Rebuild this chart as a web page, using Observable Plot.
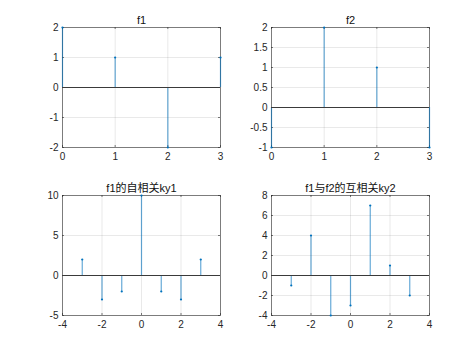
<!DOCTYPE html>
<html>
<head>
<meta charset="utf-8">
<script src="https://cdn.jsdelivr.net/npm/d3@7"></script>
<script src="https://cdn.jsdelivr.net/npm/@observablehq/plot@0.6"></script>
<style>
  body { margin: 0; background: #fff; }
  #fig { position: relative; width: 474px; height: 355px; background: #fff; overflow: hidden; }
  #fig svg { position: absolute; font-family: "Liberation Sans", Arial, "Noto Sans CJK SC", sans-serif; }
</style>
</head>
<body>
<div id="fig"></div>
<script>
// ---- data ----
const n = [0, 1, 2, 3];
const f1 = [2, 1, -2, 1];
const f2 = [-1, 2, 1, -1];
const lags = [-3, -2, -1, 0, 1, 2, 3];
const ky1 = [2, -3, -2, 10, -2, -3, 2];
const ky2 = [-1, 4, -4, -3, 7, 1, -2];

// ---- tick labels ----
const xTicksN = [0, 1, 2, 3];
const yTicksF1 = [-2, -1, 0, 1, 2];
const yTicksF2 = [-1, -0.5, 0, 0.5, 1, 1.5, 2];
const xTicksLag = [-4, -2, 0, 2, 4];
const yTicksK1 = [-5, 0, 5, 10];
const yTicksK2 = [-4, -2, 0, 2, 4, 6, 8];

const titles = ["f1", "f2", "f1的自相关ky1", "f1与f2的互相关ky2"];

const BOX_W = 158, BOX_H = 120;
const ML = 40, MR = 12, MT = 26, MB = 26;
const STEM = "#0072BD";
const AX = "#262626";

function panel({xs, ys, xTicks, yTicks, title, left, top}) {
  const data = xs.map((x, i) => ({x, v: ys[i]}));
  const xd = [xTicks[0], xTicks[xTicks.length - 1]];
  const yd = [yTicks[0], yTicks[yTicks.length - 1]];
  const tx = 2 / BOX_H * (yd[1] - yd[0]);
  const ty = 2 / BOX_W * (xd[1] - xd[0]);
  const fmt = d => String(d);
  const svg = Plot.plot({
    width: BOX_W + ML + MR,
    height: BOX_H + MT + MB,
    marginLeft: ML, marginRight: MR, marginTop: MT, marginBottom: MB,
    style: {fontSize: "10px", color: AX, background: "transparent", overflow: "visible"},
    x: {domain: xd},
    y: {domain: yd},
    marks: [
      Plot.gridX(xTicks, {stroke: AX, strokeOpacity: 0.1}),
      Plot.gridY(yTicks, {stroke: AX, strokeOpacity: 0.1}),
      Plot.frame({stroke: "#7c7c7c", strokeWidth: 1}),
      // inward ticks
      Plot.ruleX(xTicks, {x: d => d, y1: yd[0], y2: yd[0] + tx, stroke: AX, strokeOpacity: 0.6}),
      Plot.ruleX(xTicks, {x: d => d, y1: yd[1], y2: yd[1] - tx, stroke: AX, strokeOpacity: 0.6}),
      Plot.ruleY(yTicks, {y: d => d, x1: xd[0], x2: xd[0] + ty, stroke: AX, strokeOpacity: 0.6}),
      Plot.ruleY(yTicks, {y: d => d, x1: xd[1], x2: xd[1] - ty, stroke: AX, strokeOpacity: 0.6}),
      Plot.ruleX(data, {x: "x", y1: 0, y2: "v", stroke: STEM, strokeWidth: 1.2, strokeOpacity: 0.6}),
      Plot.ruleY([0], {stroke: "#3a3a3a", strokeWidth: 1}),
      Plot.dot(data, {x: "x", y: "v", r: 1.1, fill: STEM, stroke: "none"}),
      Plot.axisX(xTicks, {tickSize: 0, tickPadding: 5, tickFormat: fmt, label: null, fill: AX, fontSize: 10}),
      Plot.axisY(yTicks, {tickSize: 0, tickPadding: 4, tickFormat: fmt, label: null, fill: AX, fontSize: 10}),
      Plot.text([title], {frameAnchor: "top", dy: -4, lineAnchor: "bottom", text: d => d,
        fontSize: 11, fill: "#111"})
    ]
  });
  svg.style.left = (left - ML) + "px";
  svg.style.top = (top - MT) + "px";
  document.getElementById("fig").appendChild(svg);
}

panel({xs: n, ys: f1, xTicks: xTicksN, yTicks: yTicksF1, title: titles[0], left: 62, top: 27});
panel({xs: n, ys: f2, xTicks: xTicksN, yTicks: yTicksF2, title: titles[1], left: 271, top: 27});
panel({xs: lags, ys: ky1, xTicks: xTicksLag, yTicks: yTicksK1, title: titles[2], left: 62, top: 195});
panel({xs: lags, ys: ky2, xTicks: xTicksLag, yTicks: yTicksK2, title: titles[3], left: 271, top: 195});
</script>
</body>
</html>
